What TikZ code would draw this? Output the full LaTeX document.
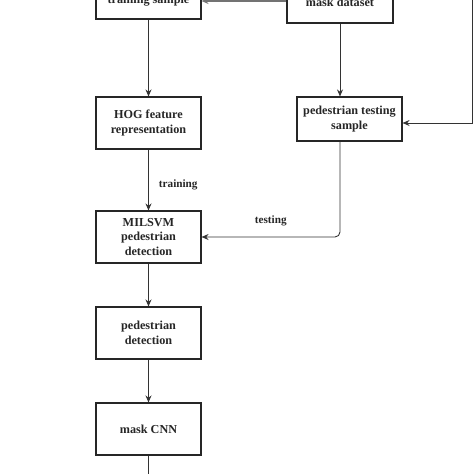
\documentclass[tikz,border=0pt]{standalone}
\usepackage{fontspec}
\setmainfont{Liberation Serif}
\usetikzlibrary{arrows.meta}
\begin{document}
\begin{tikzpicture}[x=1pt,y=-1pt,
  box/.style={draw=black!85,line width=1.1pt,rectangle,inner sep=0pt,align=center,
    font=\fontsize{12.2}{14.5}\selectfont\bfseries,text=black!85},
  conn/.style={draw=black!80,line width=0.9pt,-{Stealth[length=7pt,width=6pt]}},
  lbl/.style={font=\fontsize{11.2}{13}\selectfont\bfseries,text=black!85,inner sep=0pt}]
\useasboundingbox (0,0) rectangle (474,474);
\node[box,minimum width=105pt,minimum height=37pt] (train) at (148.5,0.5) {training sample};
\node[box,minimum width=106pt,minimum height=42pt] (mask) at (340,2) {mask dataset};
\node[box,minimum width=105pt,minimum height=52pt] (hog) at (148.5,123) {HOG feature\\representation};
\node[box,minimum width=105pt,minimum height=44pt] (ptest) at (349.5,119) {pedestrian testing\\sample};
\node[box,minimum width=105pt,minimum height=52pt] (mil) at (148.5,237) {MILSVM\\pedestrian\\detection};
\node[box,minimum width=105pt,minimum height=52pt] (pdet) at (148.5,333) {pedestrian\\detection};
\node[box,minimum width=105pt,minimum height=52pt] (cnn) at (148.5,429) {mask CNN};
\coordinate (rtop) at (472,-20);
\coordinate (bot) at (148.5,490);
\draw[conn,draw=black!55,line width=1.6pt] (mask.west |- 0,1) -- (train.east |- 0,1);
\draw[conn] (train) -- (hog);
\draw[conn] (mask.south) -- (mask.south |- ptest.north);
\draw[conn] (rtop) |- ([yshift=-4pt]ptest.east);
\draw[conn] (hog) -- node[lbl,right=10pt,pos=0.58] {training} (mil);
\draw[conn,rounded corners=5pt] (mask.south |- ptest.south) |- node[lbl,pos=0.75,above=11pt] {testing} (mil.east);
\draw[conn] (mil) -- (pdet);
\draw[conn] (pdet) -- (cnn);
\draw[draw=black!80,line width=0.9pt] (cnn) -- (bot);
\end{tikzpicture}
\end{document}
